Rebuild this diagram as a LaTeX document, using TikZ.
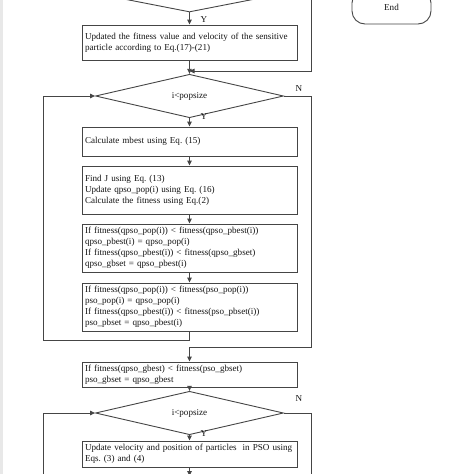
\documentclass[tikz,border=0pt]{standalone}
\usepackage{fontspec}
\setmainfont{Liberation Serif}
\usetikzlibrary{shapes.geometric,arrows.meta}
\definecolor{ln}{HTML}{454545}
\definecolor{tx}{HTML}{141414}
\frenchspacing
\begin{document}
\begin{tikzpicture}[x=1pt,y=-1pt,
  every node/.style={font=\fontsize{9.1}{11}\selectfont, text=tx},
  procbox/.style={draw=ln, line width=0.9pt, rectangle, minimum width=215pt,
    text width=209pt, inner xsep=3pt, inner ysep=0pt, align=left},
  decide/.style={draw=ln, line width=0.9pt, diamond, minimum width=188pt,
    minimum height=33pt, inner sep=0pt},
  termbox/.style={draw=ln, line width=0.9pt, rectangle, rounded corners=13pt,
    minimum width=79pt, minimum height=34pt},
  conn/.style={draw=ln, line width=0.9pt},
  arr/.style={conn, -{Triangle[length=5pt,width=4.5pt]}},
  lbl/.style={inner sep=0pt}]
\useasboundingbox (0,0) rectangle (474,474);
\fill[gray!18] (0,0) rectangle (2.7,474);

% nodes
\node[decide, minimum height=37pt] (d0) at (189.5,-6.5) {};
\node[termbox] (end) at (391.5,7) {End};
\node[procbox, minimum height=35pt] (b1) at (189.5,42.5)
  {Updated the fitness value and velocity of the sensitive\\particle according to Eq.(17)-(21)};
\node[decide] (d1) at (189.5,96) {i<popsize};
\node[procbox, minimum height=29pt] (b2) at (189.5,141.5) {Calculate mbest using Eq. (15)};
\node[procbox, minimum height=48pt] (b3) at (189.5,190)
  {Find J using Eq. (13)\\Update qpso\_pop(i) using Eq. (16)\\Calculate the fitness using Eq.(2)};
\node[procbox, minimum height=48pt] (b4) at (189.5,248)
  {If fitness(qpso\_pop(i)) < fitness(qpso\_pbest(i))\\qpso\_pbest(i) = qpso\_pop(i)\\If fitness(qpso\_pbest(i)) < fitness(qpso\_gbset)\\qpso\_gbset = qpso\_pbest(i)};
\node[procbox, minimum height=48pt] (b5) at (189.5,307)
  {If fitness(qpso\_pop(i)) < fitness(pso\_pop(i))\\pso\_pop(i) = qpso\_pop(i)\\If fitness(qpso\_pbest(i)) < fitness(pso\_pbset(i))\\pso\_pbset = qpso\_pbest(i)};
\node[procbox, minimum height=25pt] (b6) at (189.5,374.5)
  {If fitness(qpso\_gbest) < fitness(pso\_gbset)\\pso\_gbset = qpso\_gbest};
\node[decide, minimum height=31pt] (d2) at (189.5,413) {i<popsize};
\node[procbox, minimum height=26pt] (b7) at (189.5,454)
  {Update velocity and position of particles\ \ in PSO using\\Eqs. (3) and (4)};

% labels
\node[lbl] (y0) at (204,20) {Y};
\node[lbl] (y1) at (204,117) {Y};
\node[lbl] (y2) at (204,434) {Y};
\node[lbl] (n1) at (299,89) {N};
\node[lbl] (n2) at (299,399) {N};

% coordinates
\coordinate (rtop) at (311,-3);
\coordinate (j1) at (189.5,71);
\coordinate (l1) at (43,340);
\coordinate (r1) at (311,347);
\coordinate (j2) at (189.5,347);
\coordinate (lb) at (43,478);
\coordinate (rb) at (311,478);
\coordinate (bb) at (189.5,476);

% connectors
\draw[arr] (d0.south) -- (b1.north);
\draw[arr] (rtop) |- (j1);
\draw[arr] (b1.south) -- (d1.north);
\draw[arr] (d1.south) -- (b2.north);
\draw[arr] (b2.south) -- (b3.north);
\draw[arr] (b3.south) -- (b4.north);
\draw[arr] (b4.south) -- (b5.north);
\draw[arr] (b5.south) |- (l1) |- (d1.west);
\draw[conn] (d1.east) -| (r1) -- (j2);
\draw[arr] (j2) -- (b6.north);
\draw[arr] (b6.south) -- (d2.north);
\draw[arr] (d2.south) -- (b7.north);
\draw[arr] (lb) |- (d2.west);
\draw[conn] (d2.east) -| (rb);
\draw[arr] (b7.south) -- (bb);
\end{tikzpicture}
\end{document}
